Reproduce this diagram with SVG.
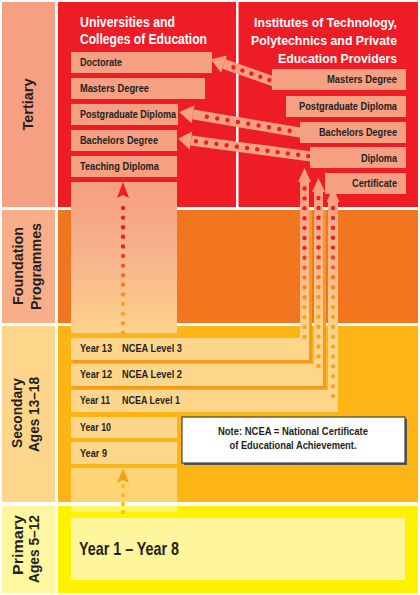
<svg xmlns="http://www.w3.org/2000/svg" width="420" height="595" viewBox="0 0 420 595">
<style>
text{font-family:"Liberation Sans Narrow","Arial Narrow","Liberation Sans",Arial,sans-serif;font-weight:bold;fill:#231F20}
.t{font-size:11px}
.title{font-size:14.5px;fill:#fff}
.title2{font-size:13px;fill:#fff}
.side{font-size:14.5px}
.bt{fill:#F5A082}
.bs{fill:#FDD68C}
.sh{fill:#F39C1C}
.rd{fill:#EE1C25}
.dg{fill:url(#dotGrad)}
</style>
<defs>
<linearGradient id="bandGrad" gradientUnits="userSpaceOnUse" x1="0" y1="190" x2="0" y2="340">
<stop offset="0" stop-color="#F5A082"/><stop offset="0.5" stop-color="#F8B78C"/><stop offset="1" stop-color="#FDD68C"/>
</linearGradient>
<linearGradient id="dotGrad" gradientUnits="userSpaceOnUse" x1="0" y1="180" x2="0" y2="400">
<stop offset="0.3" stop-color="#EE1C25"/><stop offset="0.43" stop-color="#F37021"/><stop offset="0.57" stop-color="#F9A11B"/><stop offset="1" stop-color="#F9A51B"/>
</linearGradient>
</defs>
<rect width="420" height="595" fill="#fff"/>
<g id="bands">
<rect x="2" y="2" width="53" height="205" fill="#F5A082"/>
<rect x="2" y="210" width="53" height="113" fill="#F8AE88"/>
<rect x="2" y="326" width="53" height="176" fill="#FDD68C"/>
<rect x="2" y="506" width="53" height="87" fill="#FFF6A0"/>
<rect x="58" y="2" width="360" height="205" fill="#EE1C25"/>
<rect x="58" y="210" width="360" height="113" fill="#F1761F"/>
<rect x="58" y="326" width="360" height="176" fill="#FDB515"/>
<rect x="58" y="506" width="360" height="87" fill="#FFF200"/>
<rect x="236" y="2" width="2.5" height="205" fill="#fff"/>
<text class="side" transform="translate(32.5,104.5) rotate(-90)" text-anchor="middle" textLength="52" lengthAdjust="spacingAndGlyphs">Tertiary</text>
<text class="side" transform="translate(22.5,266) rotate(-90)" text-anchor="middle" textLength="78" lengthAdjust="spacingAndGlyphs">Foundation</text>
<text class="side" transform="translate(40.5,266.5) rotate(-90)" text-anchor="middle" textLength="87" lengthAdjust="spacingAndGlyphs">Programmes</text>
<text class="side" transform="translate(22,413) rotate(-90)" text-anchor="middle" textLength="70" lengthAdjust="spacingAndGlyphs">Secondary</text>
<text class="side" transform="translate(39,414.5) rotate(-90)" text-anchor="middle" textLength="75" lengthAdjust="spacingAndGlyphs">Ages 13–18</text>
<text class="side" transform="translate(22.5,545) rotate(-90)" text-anchor="middle" textLength="60" lengthAdjust="spacingAndGlyphs">Primary</text>
<text class="side" transform="translate(39,549) rotate(-90)" text-anchor="middle" textLength="68" lengthAdjust="spacingAndGlyphs">Ages 5–12</text>
</g>
<g id="titles">
<text class="title" x="80" y="27" textLength="95" lengthAdjust="spacingAndGlyphs">Universities and</text>
<text class="title" x="80" y="44" textLength="127" lengthAdjust="spacingAndGlyphs">Colleges of Education</text>
<text class="title2" x="397" y="27" text-anchor="end" textLength="143" lengthAdjust="spacingAndGlyphs">Institutes of Technology,</text>
<text class="title2" x="397" y="45" text-anchor="end" textLength="146" lengthAdjust="spacingAndGlyphs">Polytechnics and Private</text>
<text class="title2" x="397" y="63" text-anchor="end" textLength="119" lengthAdjust="spacingAndGlyphs">Education Providers</text>
</g>
<g id="connectors">
<g transform="translate(224,64) rotate(19.4)">
<polygon class="bt" points="-14,0 0,-9 0,9"/><rect class="bt" x="0" y="-5" width="58" height="10"/>
<g class="rd"><circle cx="10" cy="0" r="2.2"/><circle cx="19.5" cy="0" r="2.2"/><circle cx="29" cy="0" r="2.2"/><circle cx="38.5" cy="0" r="2.2"/><circle cx="48" cy="0" r="2.2"/></g>
</g>
<g transform="translate(193,114.4) rotate(9.6)">
<polygon class="bt" points="-14,0 0,-9 0,9"/><rect class="bt" x="0" y="-5" width="110" height="10"/>
<g class="rd"><circle cx="14" cy="0" r="2.2"/><circle cx="24.5" cy="0" r="2.2"/><circle cx="35" cy="0" r="2.2"/><circle cx="45.5" cy="0" r="2.2"/><circle cx="56" cy="0" r="2.2"/><circle cx="66.5" cy="0" r="2.2"/><circle cx="77" cy="0" r="2.2"/><circle cx="87.5" cy="0" r="2.2"/><circle cx="98" cy="0" r="2.2"/></g>
</g>
<g transform="translate(191,140.5) rotate(7.6)">
<polygon class="bt" points="-13,0 0,-9 0,9"/><rect class="bt" x="0" y="-5" width="125" height="10"/>
<g class="rd"><circle cx="5" cy="0" r="2.2"/><circle cx="15.3" cy="0" r="2.2"/><circle cx="25.6" cy="0" r="2.2"/><circle cx="35.9" cy="0" r="2.2"/><circle cx="46.2" cy="0" r="2.2"/><circle cx="56.5" cy="0" r="2.2"/><circle cx="66.8" cy="0" r="2.2"/><circle cx="77.1" cy="0" r="2.2"/><circle cx="87.4" cy="0" r="2.2"/><circle cx="97.7" cy="0" r="2.2"/><circle cx="108" cy="0" r="2.2"/><circle cx="118.3" cy="0" r="2.2"/></g>
</g>
<rect class="sh" x="309" y="210" width="3" height="153"/>
<rect class="sh" x="73" y="360" width="239" height="3"/>
<rect class="sh" x="323" y="210" width="3" height="179"/>
<rect class="sh" x="73" y="386" width="253" height="3"/>
<polygon class="bt" points="304.5,168 311,182 298,182"/>
<rect x="300" y="181" width="9" height="170" fill="url(#bandGrad)"/>
<polygon class="bt" points="318.5,178 325,192 312,192"/>
<rect x="314" y="191" width="9" height="185" fill="url(#bandGrad)"/>
<polygon class="bt" points="333,188 339.5,202 326.5,202"/>
<rect x="328" y="201" width="10" height="200" fill="url(#bandGrad)"/>
</g>
<g id="univ">
<rect class="bt" x="71" y="52" width="141" height="21"/>
<text class="t" x="80" y="65.5" textLength="42" lengthAdjust="spacingAndGlyphs">Doctorate</text>
<rect class="bt" x="71" y="78" width="134" height="21"/>
<text class="t" x="80" y="91.5" textLength="69" lengthAdjust="spacingAndGlyphs">Masters Degree</text>
<rect class="bt" x="71" y="104" width="107" height="21"/>
<text class="t" x="80" y="117.5" textLength="96" lengthAdjust="spacingAndGlyphs">Postgraduate Diploma</text>
<rect class="bt" x="71" y="130" width="106" height="21"/>
<text class="t" x="80" y="143.5" textLength="78" lengthAdjust="spacingAndGlyphs">Bachelors Degree</text>
<rect class="bt" x="71" y="156" width="106" height="21"/>
<text class="t" x="80" y="169.5" textLength="79" lengthAdjust="spacingAndGlyphs">Teaching Diploma</text>
<rect x="71" y="182" width="106" height="151" fill="url(#bandGrad)"/>
<polygon class="rd" points="123,182 129,198 123,195 117,198"/>
</g>
<g id="inst">
<rect class="bt" x="272" y="69" width="134" height="21"/>
<text class="t" x="397" y="83" text-anchor="end" textLength="70" lengthAdjust="spacingAndGlyphs">Masters Degree</text>
<rect class="bt" x="286" y="96" width="120" height="21"/>
<text class="t" x="397" y="110" text-anchor="end" textLength="98" lengthAdjust="spacingAndGlyphs">Postgraduate Diploma</text>
<rect class="bt" x="300" y="122" width="106" height="21"/>
<text class="t" x="397" y="136" text-anchor="end" textLength="78" lengthAdjust="spacingAndGlyphs">Bachelors Degree</text>
<rect class="bt" x="310" y="147" width="96" height="21"/>
<text class="t" x="397" y="161.5" text-anchor="end" textLength="36" lengthAdjust="spacingAndGlyphs">Diploma</text>
<rect class="bt" x="325" y="173" width="81" height="21"/>
<text class="t" x="397" y="187" text-anchor="end" textLength="45" lengthAdjust="spacingAndGlyphs">Certificate</text>
</g>
<g id="secondary">
<rect class="bs" x="71" y="338" width="238" height="22"/>
<text class="t" x="80" y="352" textLength="32" lengthAdjust="spacingAndGlyphs">Year 13</text>
<text class="t" x="122" y="352" textLength="60" lengthAdjust="spacingAndGlyphs">NCEA Level 3</text>
<rect class="bs" x="71" y="364" width="252" height="22"/>
<text class="t" x="80" y="378" textLength="32" lengthAdjust="spacingAndGlyphs">Year 12</text>
<text class="t" x="122" y="378" textLength="60" lengthAdjust="spacingAndGlyphs">NCEA Level 2</text>
<rect class="bs" x="71" y="390" width="267" height="22"/>
<text class="t" x="80" y="404" textLength="30" lengthAdjust="spacingAndGlyphs">Year 11</text>
<text class="t" x="122" y="404" textLength="58" lengthAdjust="spacingAndGlyphs">NCEA Level 1</text>
<rect class="bs" x="71" y="417" width="106" height="21"/>
<text class="t" x="80" y="430.5" textLength="31" lengthAdjust="spacingAndGlyphs">Year 10</text>
<rect class="bs" x="71" y="442" width="106" height="22"/>
<text class="t" x="80" y="456.5" textLength="27" lengthAdjust="spacingAndGlyphs">Year 9</text>
<rect x="71" y="468" width="106" height="44" fill="#fff" opacity="0.42"/>
<polygon points="123,468 129,483 123,480 117,483" fill="#F7A01B"/>
<g fill="#FBC21A"><circle cx="123" cy="486" r="2.2"/><circle cx="123" cy="495" r="2.2"/><circle cx="123" cy="504" r="2.2"/><circle cx="123" cy="512" r="2.2"/></g>
</g>
<g id="dots" class="dg">
<circle cx="123" cy="208" r="2.2"/><circle cx="123" cy="217.6" r="2.2"/><circle cx="123" cy="227.2" r="2.2"/><circle cx="123" cy="236.8" r="2.2"/><circle cx="123" cy="246.4" r="2.2"/><circle cx="123" cy="256" r="2.2"/><circle cx="123" cy="265.6" r="2.2"/><circle cx="123" cy="275.2" r="2.2"/><circle cx="123" cy="284.8" r="2.2"/><circle cx="123" cy="294.4" r="2.2"/><circle cx="123" cy="304" r="2.2"/><circle cx="123" cy="313.6" r="2.2"/><circle cx="123" cy="323.2" r="2.2"/><circle cx="123" cy="332.8" r="2.2"/>
<circle cx="304.5" cy="188.5" r="2.2"/><circle cx="304.5" cy="198.4" r="2.2"/><circle cx="304.5" cy="208.3" r="2.2"/><circle cx="304.5" cy="218.2" r="2.2"/><circle cx="304.5" cy="228.1" r="2.2"/><circle cx="304.5" cy="238" r="2.2"/><circle cx="304.5" cy="247.9" r="2.2"/><circle cx="304.5" cy="257.8" r="2.2"/><circle cx="304.5" cy="267.7" r="2.2"/><circle cx="304.5" cy="277.6" r="2.2"/><circle cx="304.5" cy="287.5" r="2.2"/><circle cx="304.5" cy="297.4" r="2.2"/><circle cx="304.5" cy="307.3" r="2.2"/><circle cx="304.5" cy="317.2" r="2.2"/><circle cx="304.5" cy="327.1" r="2.2"/><circle cx="304.5" cy="337" r="2.2"/>
<circle cx="318.5" cy="198" r="2.2"/><circle cx="318.5" cy="207.9" r="2.2"/><circle cx="318.5" cy="217.8" r="2.2"/><circle cx="318.5" cy="227.7" r="2.2"/><circle cx="318.5" cy="237.6" r="2.2"/><circle cx="318.5" cy="247.5" r="2.2"/><circle cx="318.5" cy="257.4" r="2.2"/><circle cx="318.5" cy="267.3" r="2.2"/><circle cx="318.5" cy="277.2" r="2.2"/><circle cx="318.5" cy="287.1" r="2.2"/><circle cx="318.5" cy="297" r="2.2"/><circle cx="318.5" cy="306.9" r="2.2"/><circle cx="318.5" cy="316.8" r="2.2"/><circle cx="318.5" cy="326.7" r="2.2"/><circle cx="318.5" cy="336.6" r="2.2"/><circle cx="318.5" cy="346.5" r="2.2"/><circle cx="318.5" cy="356.4" r="2.2"/><circle cx="318.5" cy="366.3" r="2.2"/>
<circle cx="333" cy="208" r="2.2"/><circle cx="333" cy="217.9" r="2.2"/><circle cx="333" cy="227.8" r="2.2"/><circle cx="333" cy="237.7" r="2.2"/><circle cx="333" cy="247.6" r="2.2"/><circle cx="333" cy="257.5" r="2.2"/><circle cx="333" cy="267.4" r="2.2"/><circle cx="333" cy="277.3" r="2.2"/><circle cx="333" cy="287.2" r="2.2"/><circle cx="333" cy="297.1" r="2.2"/><circle cx="333" cy="307" r="2.2"/><circle cx="333" cy="316.9" r="2.2"/><circle cx="333" cy="326.8" r="2.2"/><circle cx="333" cy="336.7" r="2.2"/><circle cx="333" cy="346.6" r="2.2"/><circle cx="333" cy="356.5" r="2.2"/><circle cx="333" cy="366.4" r="2.2"/><circle cx="333" cy="376.3" r="2.2"/><circle cx="333" cy="386.2" r="2.2"/><circle cx="333" cy="396.1" r="2.2"/>
</g>
<g id="note">
<rect x="184" y="419" width="223" height="46" fill="#555"/>
<rect x="182" y="417" width="223" height="46" fill="#fff" stroke="#444" stroke-width="1.2"/>
<text x="293" y="435" text-anchor="middle" style="font-size:10.5px" textLength="150" lengthAdjust="spacingAndGlyphs">Note: NCEA = National Certificate</text>
<text x="293" y="449" text-anchor="middle" style="font-size:10.5px" textLength="127" lengthAdjust="spacingAndGlyphs">of Educational Achievement.</text>
</g>
<g id="primary">
<rect x="71" y="518" width="334" height="62" fill="#FFF59B"/>
<text x="79" y="555" style="font-size:19px" textLength="100" lengthAdjust="spacingAndGlyphs">Year 1 – Year 8</text>
</g>
</svg>
